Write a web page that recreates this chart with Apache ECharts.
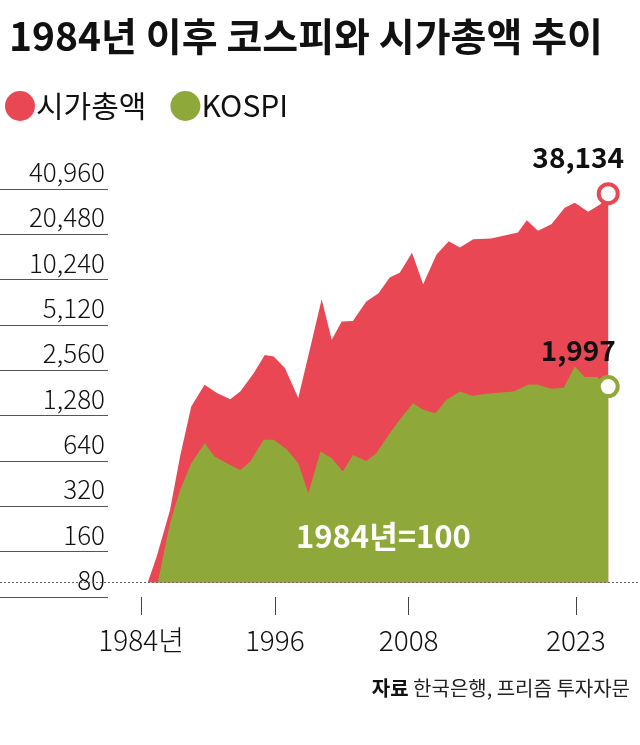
<!DOCTYPE html>
<html>
<head>
<meta charset="utf-8">
<script src="https://cdn.jsdelivr.net/npm/echarts@6/dist/echarts.min.js"></script>
<style>
  html, body { margin: 0; padding: 0; background: #fff; }
  #chart { width: 640px; height: 745px; }
</style>
</head>
<body>
<div id="chart"></div>
<script>
// 값은 그림에서 읽은 근사치 (1984년=100)
const capYears = [1984.6, 1985.4, 1986.6, 1987.5, 1988.5, 1989.7, 1990.8, 1992.0, 1992.9, 1994.1, 1995.1, 1995.9, 1996.9, 1998.1, 1999.2, 2000.2, 2001.1, 2002.0, 2003.0, 2004.2, 2005.3, 2006.3, 2007.2, 2008.3, 2009.3, 2010.5, 2011.6, 2012.6, 2013.8, 2015.4, 2017.8, 2018.6, 2019.6, 2020.8, 2022.0, 2022.9, 2024.1, 2025.2, 2025.9];
const capValues = [100, 148, 302, 686, 1470, 2050, 1810, 1645, 1850, 2450, 3240, 3160, 2650, 1675, 3690, 7600, 4080, 5400, 5450, 7340, 8330, 10580, 11400, 15470, 9530, 15070, 18450, 16720, 18970, 19250, 21040, 25400, 21600, 23850, 30800, 33200, 28900, 32400, 38134];
const kospiYears = [1985.5, 1986.6, 1987.5, 1988.5, 1989.7, 1990.6, 1991.7, 1992.9, 1993.8, 1995.0, 1995.9, 1997.1, 1998.1, 1999.0, 2000.1, 2001.1, 2002.1, 2003.0, 2004.2, 2005.1, 2006.3, 2007.4, 2008.4, 2009.3, 2010.4, 2011.4, 2012.6, 2013.7, 2015.0, 2017.4, 2018.7, 2019.5, 2020.8, 2021.9, 2022.9, 2023.8, 2024.9, 2025.9];
const kospiValues = [100, 248, 411, 618, 839, 686, 618, 558, 635, 885, 885, 760, 618, 391, 740, 668, 545, 702, 640, 720, 978, 1260, 1550, 1400, 1330, 1630, 1850, 1735, 1790, 1850, 2050, 2060, 1930, 1960, 2710, 2310, 2310, 1997];
const tickYears = [1984, 1996, 2008, 2023];
const tickLabels = ['1984년', '1996', '2008', '2023'];
const yBase = 80;      // 축 최솟값
const yDoublings = 9;  // 80 ~ 40,960

const RED = '#e84753';
const GREEN = '#8fa83a';
const FONT = '"Noto Sans CJK KR", "Noto Sans", sans-serif';

const toLog = v => Math.log2(v / yBase);

function buildSeries(years, values, color, zIndex, labelOffset) {
    const last = values.length - 1;
    return {
        type: 'line',
        z: zIndex,
        data: years.map((y, i) => {
            const item = { value: [y, toLog(values[i])] };
            if (i === last) {
                item.symbol = 'circle';
                item.symbolSize = 19;
                item.itemStyle = { color: '#fff', borderColor: color, borderWidth: 4 };
                item.label = {
                    show: true, position: 'top', offset: labelOffset,
                    formatter: values[i].toLocaleString('en-US'),
                    fontFamily: FONT, fontSize: 28, fontWeight: 'bold', color: '#111'
                };
            }
            return item;
        }),
        showSymbol: true,
        symbolSize: 0,
        lineStyle: { width: 0 },
        areaStyle: { color: color, opacity: 1, origin: toLog(100) },
        silent: true,
        animation: false
    };
}

const chart = echarts.init(document.getElementById('chart'));
const redSeries = buildSeries(capYears, capValues, RED, 2, [-30, -6]);
redSeries.markLine = {
    silent: true, symbol: 'none', label: { show: false },
    lineStyle: { color: '#666', type: [2, 2], width: 1 },
    data: [{ yAxis: toLog(100) }]
};

chart.setOption({
    animation: false,
    title: {
        text: '1984년 이후 코스피와 시가총액 추이',
        left: 4, top: 12,
        textStyle: { fontFamily: FONT, fontSize: 39, fontWeight: 'bold', color: '#111' }
    },
    legend: {
        left: 0, top: 86,
        icon: 'circle', itemWidth: 30, itemHeight: 30, itemGap: 24,
        textStyle: { fontFamily: FONT, fontSize: 30, color: '#111', padding: [0, 0, 0, -4] },
        data: [
            { name: '시가총액', itemStyle: { color: RED } },
            { name: 'KOSPI', itemStyle: { color: GREEN } }
        ]
    },
    grid: [
        { left: 0, right: 0, top: 189, bottom: 148 },
        { left: 0, width: 108, top: 189, bottom: 148 }
    ],
    xAxis: [
        {
            type: 'value', gridIndex: 0,
            min: 1971.35, max: 2028.75,
            offset: 5,
            axisLine: { show: false },
            splitLine: { show: false },
            axisTick: { show: true, customValues: tickYears, length: 18, lineStyle: { color: '#444' } },
            axisLabel: {
                customValues: tickYears, margin: 24,
                formatter: v => tickLabels[tickYears.indexOf(v)],
                fontFamily: FONT, fontSize: 28, fontWeight: 300, color: '#111'
            }
        },
        { type: 'value', gridIndex: 1, show: false }
    ],
    yAxis: [
        { type: 'value', gridIndex: 0, min: 0, max: yDoublings, show: false },
        {
            type: 'value', gridIndex: 1, position: 'right',
            min: 0, max: yDoublings, interval: 1,
            axisLine: { show: false }, axisTick: { show: false },
            splitLine: { show: true, lineStyle: { color: '#555', width: 1 } },
            axisLabel: {
                inside: true, verticalAlign: 'bottom', margin: 3,
                padding: [0, 0, 4, 0],
                formatter: v => (yBase * Math.pow(2, v)).toLocaleString('en-US'),
                fontFamily: FONT, fontSize: 26, fontWeight: 300, color: '#111'
            }
        }
    ],
    series: [
        Object.assign(redSeries, { name: '시가총액' }),
        Object.assign(buildSeries(kospiYears, kospiValues, GREEN, 3, [-30, -6]), { name: 'KOSPI' })
    ],
    graphic: [
        {
            type: 'text', left: 296, top: 521, z: 10,
            style: { text: '1984년=100', fontFamily: FONT, fontSize: 31, fontWeight: 'bold', fill: '#fff' }
        },
        {
            type: 'text', right: 10, top: 678,
            style: {
                text: '{b|자료} 한국은행, 프리즘 투자자문',
                fontFamily: FONT, fontSize: 20, fill: '#222',
                rich: { b: { fontFamily: FONT, fontSize: 20, fontWeight: 'bold', fill: '#111' } }
            }
        }
    ]
});
</script>
</body>
</html>
